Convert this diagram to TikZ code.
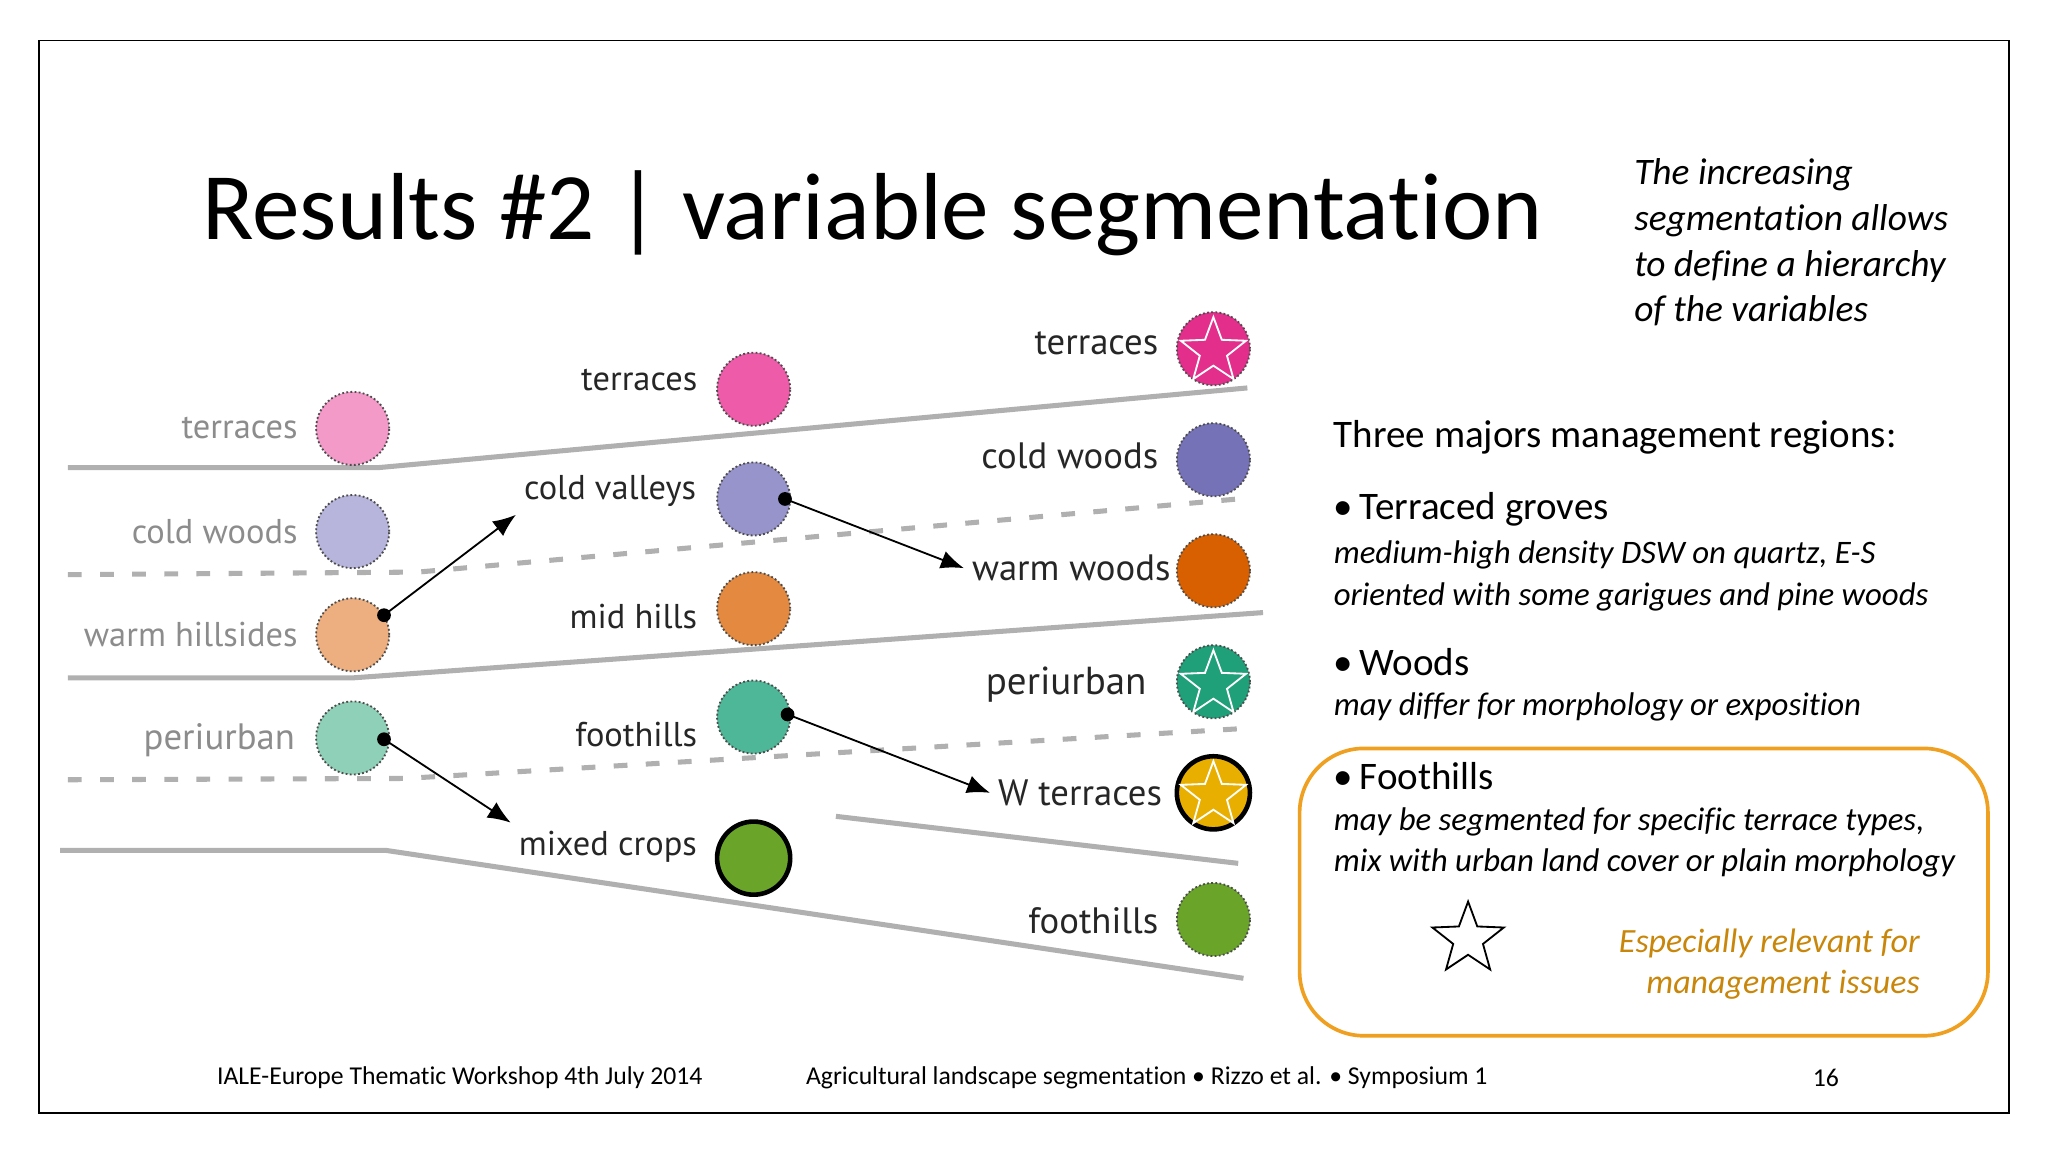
\documentclass[tikz,border=0pt]{standalone}
\usepackage{fontspec}
\setmainfont[Ligatures=NoCommon]{Carlito}
\newfontfamily\lab{PT Sans}
\usetikzlibrary{shapes.geometric,arrows.meta}
\definecolor{orng}{HTML}{F0A020}
\definecolor{otxt}{HTML}{C8860A}
\definecolor{gl}{HTML}{B0B0B0}
\tikzset{
 dot/.style={circle,minimum size=1.12cm,inner sep=0,draw=black!70,densely dotted,thick},
 bigdot/.style={circle,minimum size=1.12cm,inner sep=0,draw=black,line width=2pt},
 stardot/.style={star,star points=5,star point ratio=2.4,minimum size=1.05cm,inner sep=0,draw=white,thick},
 lab1/.style={font=\lab\fontsize{15}{18}\selectfont,text=black!45,anchor=east},
 lab2/.style={font=\lab\fontsize{15}{18}\selectfont,text=black!85,anchor=east},
 gline/.style={draw=gl,line width=2.2pt},
 dline/.style={draw=gl,line width=2.2pt,dash pattern=on 6pt off 8pt},
 arr/.style={-{Latex[length=10pt,width=8pt]},thick},
 rtxt/.style={anchor=west,font=\fontsize{14.3}{18}\selectfont\itshape,align=left},
 htxt/.style={anchor=west,font=\fontsize{17}{20}\selectfont}
}
\begin{document}
\begin{tikzpicture}[x={(0.02cm,0)},y={(0,-0.02cm)}]
\useasboundingbox (0,0) rectangle (1568,882);
\draw[thick] (30,31) rectangle (1538,852);
\node[font=\fontsize{41.5}{50}\selectfont] (title) at (668,163) {Results \#2 | variable segmentation};
\node[anchor=north west,align=left,font=\fontsize{16.3}{20}\selectfont\itshape] (intro) at (1245,115) {The increasing\\segmentation allows\\to define a hierarchy\\of the variables};
% lines
\coordinate (l1a) at (52,358); \coordinate (l1b) at (290,358); \coordinate (l1c) at (955,297);
\draw[gline] (l1a)--(l1b)--(l1c);
\coordinate (d1a) at (52,440); \coordinate (d1b) at (320,438); \coordinate (d1c) at (948,382);
\draw[dline] (d1a)--(d1b)--(d1c);
\coordinate (l2a) at (52,519); \coordinate (l2b) at (270,519); \coordinate (l2c) at (967,469);
\draw[gline] (l2a)--(l2b)--(l2c);
\coordinate (d2a) at (52,597); \coordinate (d2b) at (310,596); \coordinate (d2c) at (948,558);
\draw[dline] (d2a)--(d2b)--(d2c);
\coordinate (l3a) at (640,625); \coordinate (l3b) at (948,661);
\draw[gline] (l3a)--(l3b);
\coordinate (l4a) at (46,651); \coordinate (l4b) at (295,651); \coordinate (l4c) at (952,749);
\draw[gline] (l4a)--(l4b)--(l4c);
% column 1
\node[dot,fill={rgb,255:red,244;green,154;blue,201}] (a1) at (270,328) {};
\node[dot,fill={rgb,255:red,184;green,181;blue,221}] (a2) at (270,407) {};
\node[dot,fill={rgb,255:red,237;green,175;blue,128}] (a3) at (270,486) {};
\node[dot,fill={rgb,255:red,143;green,208;blue,184}] (a4) at (270,565) {};
\node[lab1] (ta1) at (234,328) {terraces};
\node[lab1] (ta2) at (234,407) {cold woods};
\node[lab1] (ta3) at (234,486) {warm hillsides};
\node[lab1,font=\lab\fontsize{16}{18}\selectfont] (ta4) at (232,567) {periurban};
% column 2
\node[dot,fill={rgb,255:red,238;green,91;blue,168}] (b1) at (577,298) {};
\node[dot,fill={rgb,255:red,151;green,147;blue,203}] (b2) at (577,382) {};
\node[dot,fill={rgb,255:red,228;green,138;blue,64}] (b3) at (577,466) {};
\node[dot,fill={rgb,255:red,77;green,183;blue,151}] (b4) at (577,549) {};
\node[bigdot,fill={rgb,255:red,106;green,165;blue,42}] (b5) at (577,657) {};
\node[lab2] (tb1) at (540,291) {terraces};
\node[lab2,anchor=west] (tb2) at (395,376) {cold valleys};
\node[lab2] (tb3) at (540,472) {mid hills};
\node[lab2] (tb4) at (540,562) {foothills};
\node[lab2,anchor=west] (tb5) at (391,648) {mixed crops};
% column 3
\node[dot,fill={rgb,255:red,228;green,46;blue,140}] (c1) at (929,267) {};
\node[stardot] (s1) at (929,269) {};
\node[dot,fill={rgb,255:red,118;green,114;blue,184}] (c2) at (929,352) {};
\node[dot,fill={rgb,255:red,217;green,96;blue,0}] (c3) at (929,437) {};
\node[dot,fill={rgb,255:red,31;green,160;blue,121}] (c4) at (929,522) {};
\node[stardot] (s4) at (929,524) {};
\node[bigdot,fill={rgb,255:red,232;green,175;blue,0}] (c5) at (929,607) {};
\node[stardot] (s5) at (929,609) {};
\node[dot,fill={rgb,255:red,106;green,165;blue,42}] (c6) at (929,704) {};
\node[lab2,font=\lab\fontsize{16}{18}\selectfont] (tc1) at (893,263) {terraces};
\node[lab2,font=\lab\fontsize{16}{18}\selectfont] (tc2) at (893,349) {cold woods};
\node[lab2,font=\lab\fontsize{16}{18}\selectfont,anchor=west] (tc3) at (738,435) {warm woods};
\node[lab2,font=\lab\fontsize{17}{18}\selectfont] (tc4) at (884,524) {periurban};
\node[lab2,font=\lab\fontsize{16}{18}\selectfont,anchor=west] (tc5) at (758,607) {W terraces};
\node[lab2,font=\lab\fontsize{16}{18}\selectfont] (tc6) at (893,705) {foothills};
% arrows
\fill (294,471) circle (3pt); \coordinate (p1) at (294,471);
\draw[arr] (p1) -- (tb2.south west);
\fill (601,382) circle (3pt); \coordinate (p2) at (601,382);
\draw[arr] (p2) -- (tc3.west);
\fill (294,566) circle (3pt); \coordinate (p3) at (294,566);
\draw[arr] (p3) -- (tb5.north west);
\fill (603,547) circle (3pt); \coordinate (p4) at (603,547);
\draw[arr] (p4) -- (tc5.west);
% right text
\node[htxt] (three) at (1015,335) {Three majors management regions:};
\node[htxt] (bul1) at (1015,390) {\textbullet\,Terraced groves};
\node[rtxt,anchor=north west] (d1) at (1015,408) {medium-high density DSW on quartz, E-S\\oriented with some garigues and pine woods};
\node[htxt] (bul2) at (1015,507) {\textbullet\,Woods};
\node[rtxt] (d2) at (1015,541) {may differ for morphology or exposition};
\draw[orng,line width=1.6pt,rounded corners=28pt] (995,573) rectangle (1522,793);
\node[htxt] (bul3) at (1015,594) {\textbullet\,Foothills};
\node[rtxt,anchor=north west] (d3) at (1015,612) {may be segmented for specific terrace types,\\mix with urban land cover or plain morphology};
\node[star,star points=5,star point ratio=2.4,minimum size=1.15cm,inner sep=0,draw=black,thick] (bstar) at (1124,719) {};
\node[rtxt,anchor=east,align=right,text=otxt,font=\fontsize{14.8}{18}\selectfont\itshape] (esp) at (1476,738) {Especially relevant for\\management issues};
% footer
\node[anchor=west,font=\fontsize{11.2}{14}\selectfont] (f1) at (160,825) {IALE-Europe Thematic Workshop 4th July 2014};
\node[font=\fontsize{11.2}{14}\selectfont] (f2) at (878,825) {Agricultural landscape segmentation \textbullet\ Rizzo et al. \textbullet\ Symposium 1};
\node[font=\fontsize{11.2}{14}\selectfont] (f3) at (1398,825) {16};
\end{tikzpicture}
\end{document}
